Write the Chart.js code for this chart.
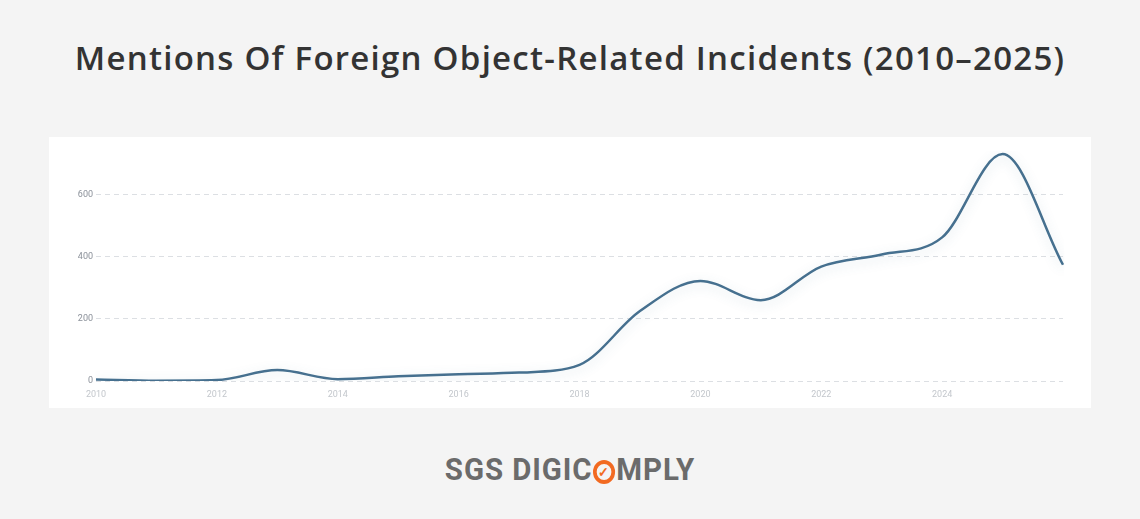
<!DOCTYPE html>
<html>
<head>
<meta charset="utf-8">
<script src="https://cdn.jsdelivr.net/npm/chart.js@4.4.1/dist/chart.umd.min.js"></script>
<style>
  html, body { margin: 0; padding: 0; }
  body { width: 1140px; height: 519px; background: #f4f4f4; position: relative; overflow: hidden; font-family: "Open Sans", sans-serif; }
  h1 { position: absolute; left: 0; top: 35px; width: 1140px; margin: 0; text-align: center; font-size: 33px; font-weight: 600; color: #333; letter-spacing: 1.25px; }
  .box { position: absolute; left: 49px; top: 137px; width: 1042px; height: 271px; background: #fff; }
  .logo { position: absolute; left: 0; top: 450px; width: 1140px; text-align: center; font-family: "Roboto", sans-serif; font-weight: 700; font-size: 32px; color: #6b6b6b; letter-spacing: 1px; transform: scaleX(0.92); }
  .logo .o { display: inline-block; box-sizing: border-box; width: 24px; height: 24px; border: 4px solid #f26a21; border-radius: 50%; color: #f26a21; font-size: 14px; font-weight: 900; line-height: 16px; vertical-align: 3px; text-align: center; margin: 0 1px; }
</style>
</head>
<body>
<h1>Mentions Of Foreign Object-Related Incidents (2010–2025)</h1>
<div class="box"><canvas id="myChart1" width="1042" height="271"></canvas></div>
<div class="logo">SGS DIGIC<span class="o">✓</span>MPLY</div>
<script>
// 연도별 언급 수
const years = ['2010','2011','2012','2013','2014','2015','2016','2017','2018','2019','2020','2021','2022','2023','2024','2025','2026'];
const mentions = [5, 1, 3, 35, 6, 15, 22, 27, 52, 225, 322, 260, 368, 407, 462, 730, 374];
const yTicks = [0, 200, 400, 600];

// 선 주변 그림자
const glow = {
    id: 'glow',
    beforeDatasetDraw(chart) {
        const c = chart.ctx;
        c.save();
        c.shadowColor = 'rgba(70,112,143,0.22)';
        c.shadowBlur = 12;
        c.shadowOffsetY = 3;
    },
    afterDatasetDraw(chart) {
        chart.ctx.restore();
    }
};

const ctx = document.getElementById('myChart1').getContext('2d');
const myChart1 = new Chart(ctx, {
    type: 'line',
    plugins: [glow],
    data: {
        labels: years,
        datasets: [{
            label: 'Mentions',
            data: mentions,
            borderColor: '#46708f',
            borderWidth: 2.5,
            pointRadius: 0,
            cubicInterpolationMode: 'monotone',
            fill: false
        }]
    },
    options: {
        responsive: false,
        animation: false,
        layout: {
            padding: { top: 14, right: 28, bottom: 10, left: 0 }
        },
        scales: {
            x: {
                offset: false,
                grid: { display: false },
                border: { display: false },
                afterFit(scale) { scale.height = 17; },
                ticks: {
                    color: '#c3c7cc',
                    font: { family: 'Roboto', size: 9 },
                    padding: 0,
                    maxRotation: 0,
                    autoSkip: false,
                    callback(v, i) {
                        return (i % 2 === 0 && i < years.length - 1) ? years[i] : '';
                    }
                }
            },
            y: {
                min: 0,
                max: 740,
                afterBuildTicks(scale) {
                    scale.ticks = yTicks.map(v => ({ value: v }));
                },
                afterFit(scale) { scale.width = 47; },
                grid: {
                    color: '#dcdfe3',
                    drawTicks: false,
                    lineWidth: 1
                },
                border: { display: false, dash: [5, 4] },
                ticks: {
                    color: '#8a9099',
                    font: { family: 'Roboto', size: 9 },
                    padding: 3
                }
            }
        },
        plugins: {
            legend: { display: false },
            tooltip: { enabled: false }
        }
    }
});
</script>
</body>
</html>
